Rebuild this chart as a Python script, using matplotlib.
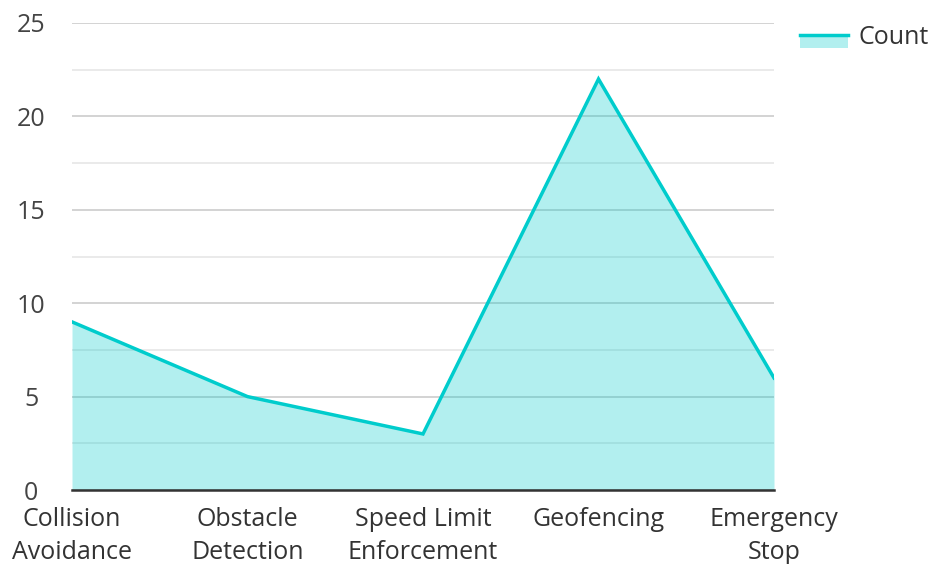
import matplotlib
matplotlib.use("Agg")
import matplotlib.pyplot as plt
from matplotlib.patches import Rectangle
from matplotlib.lines import Line2D

categories = ["Collision\nAvoidance", "Obstacle\nDetection", "Speed Limit\nEnforcement",
              "Geofencing", "Emergency\nStop"]
counts = [9, 5, 3, 22, 6]
series_name = "Count"
y_ticks = [0, 5, 10, 15, 20, 25]

plt.rcParams['font.family'] = ['Open Sans', 'DejaVu Sans']

W, H = 931, 564
fig = plt.figure(figsize=(W / 100, H / 100), dpi=100)
ax = fig.add_axes([72 / W, 1 - 490 / H, (774 - 72) / W, (490 - 23) / H])

line_color = "#00cccc"
fill_color = "#00cccc"
fs = 18

x = list(range(len(categories)))
ax.fill_between(x, counts, 0, color=fill_color, alpha=0.3, linewidth=0, zorder=2.5)
ax.plot(x, counts, color=line_color, linewidth=2.5, zorder=3, solid_joinstyle="miter")

ax.set_xlim(0, len(categories) - 1)
ax.set_ylim(0, 25)
ax.set_yticks(y_ticks)
ax.set_yticks([2.5, 7.5, 12.5, 17.5, 22.5], minor=True)
ax.set_xticks(x)
ax.set_xticklabels(categories, fontsize=fs, color="#333333", linespacing=1.38)
ax.tick_params(axis="y", labelsize=fs, labelcolor="#444444", length=0, pad=29.5)
ax.tick_params(axis="y", which="minor", length=0)
ax.tick_params(axis="x", length=0, pad=12.5)
for lab in ax.get_yticklabels():
    lab.set_horizontalalignment("center")

ax.grid(axis="y", which="major", color="#cccccc", linewidth=1.2, zorder=2)
ax.grid(axis="y", which="minor", color="#e6e6e6", linewidth=1.2, zorder=2)
for s in ["left", "right", "top"]:
    ax.spines[s].set_visible(False)
ax.spines["bottom"].set_color("#333333")
ax.spines["bottom"].set_linewidth(1.8)
ax.spines["bottom"].set_zorder(4)

# legend swatch
fig.add_artist(Rectangle((800 / W, 1 - 48 / H), 48 / W, 13 / H, transform=fig.transFigure,
                         facecolor=fill_color, alpha=0.3, linewidth=0))
fig.add_artist(Line2D([800 / W, 848 / W], [1 - 35 / H, 1 - 35 / H], transform=fig.transFigure,
                      color=line_color, linewidth=2.5))
fig.text(859 / W, 1 - 38 / H, series_name, fontsize=fs, color="#333333", va="center", ha="left")

fig.savefig("out.png", dpi=100)
